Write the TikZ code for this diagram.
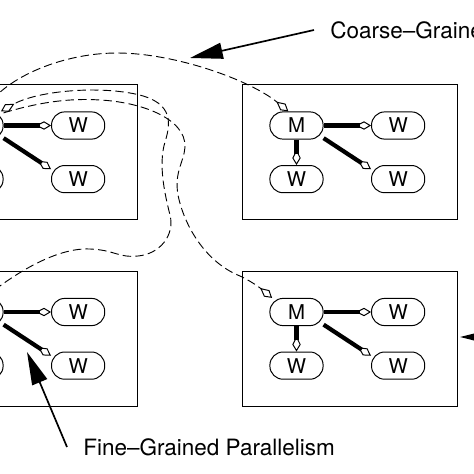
\documentclass[tikz,border=0pt]{standalone}
\usepackage{fontspec}
\setmainfont{TeX Gyre Heros}
\usetikzlibrary{arrows.meta}
\tikzstyle{cluster} = [rectangle, draw, line width=0.7pt, minimum width=5.35cm, minimum height=3.35cm]
\tikzstyle{proc} = [rectangle, draw, line width=0.7pt, rounded corners=0.33cm, minimum width=1.33cm, minimum height=0.68cm, inner sep=0pt, font=\fontsize{14.5}{16}\selectfont]
\tikzstyle{task} = [line width=3pt, -{Kite[open, line width=0.7pt, length=11pt, width=6pt, inset=6pt]}]
\tikzstyle{remote} = [line width=0.65pt, dash pattern=on 6pt off 3pt, -{Kite[open, line width=0.7pt, length=11pt, width=6pt, inset=6pt]}]
\tikzstyle{pointer} = [line width=1.2pt, -{Triangle[length=0.82cm, width=0.4cm]}]
\tikzstyle{note} = [inner xsep=0.4cm, inner ysep=0pt, anchor=west, font=\fontsize{16}{19}\selectfont]

\begin{document}
\begin{tikzpicture}[x=0.025cm, y=-0.025cm, node distance=2.54cm]
   \useasboundingbox (0,0) rectangle (474,474);
   \clip (0,0) rectangle (474,474);

   % clusters
   \node[cluster] (b1) at (30,152)  {};
   \node[cluster] (b2) at (350,152) {};
   \node[cluster] (b3) at (30,339)  {};
   \node[cluster] (b4) at (350,339) {};

   % nodes
   \node[proc] (m1)  at (-23.5,125.5)                       {M};
   \node[proc] (w1a) [right of=m1]                          {W};
   \node[proc] (w1b) [below of=m1, node distance=1.34cm]    {W};
   \node[proc] (w1c) [below of=w1a, node distance=1.34cm]   {W};

   \node[proc] (m2)  at (296.5,125.5)                       {M};
   \node[proc] (w2a) [right of=m2]                          {W};
   \node[proc] (w2b) [below of=m2, node distance=1.34cm]    {W};
   \node[proc] (w2c) [below of=w2a, node distance=1.34cm]   {W};

   \node[proc] (m3)  at (-23.5,312)                         {M};
   \node[proc] (w3a) [right of=m3]                          {W};
   \node[proc] (w3b) [below of=m3, node distance=1.34cm]    {W};
   \node[proc] (w3c) [below of=w3a, node distance=1.34cm]   {W};

   \node[proc] (m4)  at (296.5,312)                         {M};
   \node[proc] (w4a) [right of=m4]                          {W};
   \node[proc] (w4b) [below of=m4, node distance=1.34cm]    {W};
   \node[proc] (w4c) [below of=w4a, node distance=1.34cm]   {W};

   % fine-grained edges
   \draw[task] (m1) -- (w1a);
   \draw[task] (m1) -- (w1b);
   \draw[task] (m1.-25) -- (w1c.160);
   \draw[task] (m2) -- (w2a);
   \draw[task] (m2) -- (w2b);
   \draw[task] (m2.-25) -- (w2c.160);
   \draw[task] (m3) -- (w3a);
   \draw[task] (m3) -- (w3b);
   \draw[task] (m3.-25) -- (w3c.160);
   \draw[task] (m4) -- (w4a);
   \draw[task] (m4) -- (w4b);
   \draw[task] (m4.-25) -- (w4c.160);

   % coarse-grained edges
   \draw[remote] (m1.60) .. controls (0,80) and (60,53) .. (117,53)
      .. controls (175,53) and (250,80) .. (m2.120);
   \draw[remote] (m3.60) .. controls (0,285) and (50,247) .. (90,249)
      .. controls (115,250) and (118,258) .. (138,256)
      .. controls (160,254) and (175,235) .. (170,215)
      .. controls (165,195) and (158,165) .. (165,142)
      .. controls (172,120) and (172,100) .. (130,93)
      .. controls (90,86) and (35,92) .. (m1.30);
   \draw[remote] (m1.25) .. controls (40,102) and (70,98) .. (100,100)
      .. controls (140,102) and (186,118) .. (185,147)
      .. controls (184,162) and (174,172) .. (178,195)
      .. controls (184,225) and (205,262) .. (240,276)
      .. controls (255,283) and (265,292) .. (m4.150);

   % labels
   \node[note] (coarsetxt) at (314,30)  {Coarse--Grained Parallelism};
   \node[note] (finetxt)   at (67,447)  {Fine--Grained Parallelism};
   \coordinate (coarsetip) at (190,58);
   \coordinate (finetip)   at (27,352);
   \coordinate (sidefrom)  at (540,337);
   \coordinate (sidetip)   at (460,337);
   \draw[pointer] (coarsetxt.west) -- (coarsetip);
   \draw[pointer] (finetxt.west) -- (finetip);
   \draw[pointer] (sidefrom) -- (sidetip);
\end{tikzpicture}
\end{document}
